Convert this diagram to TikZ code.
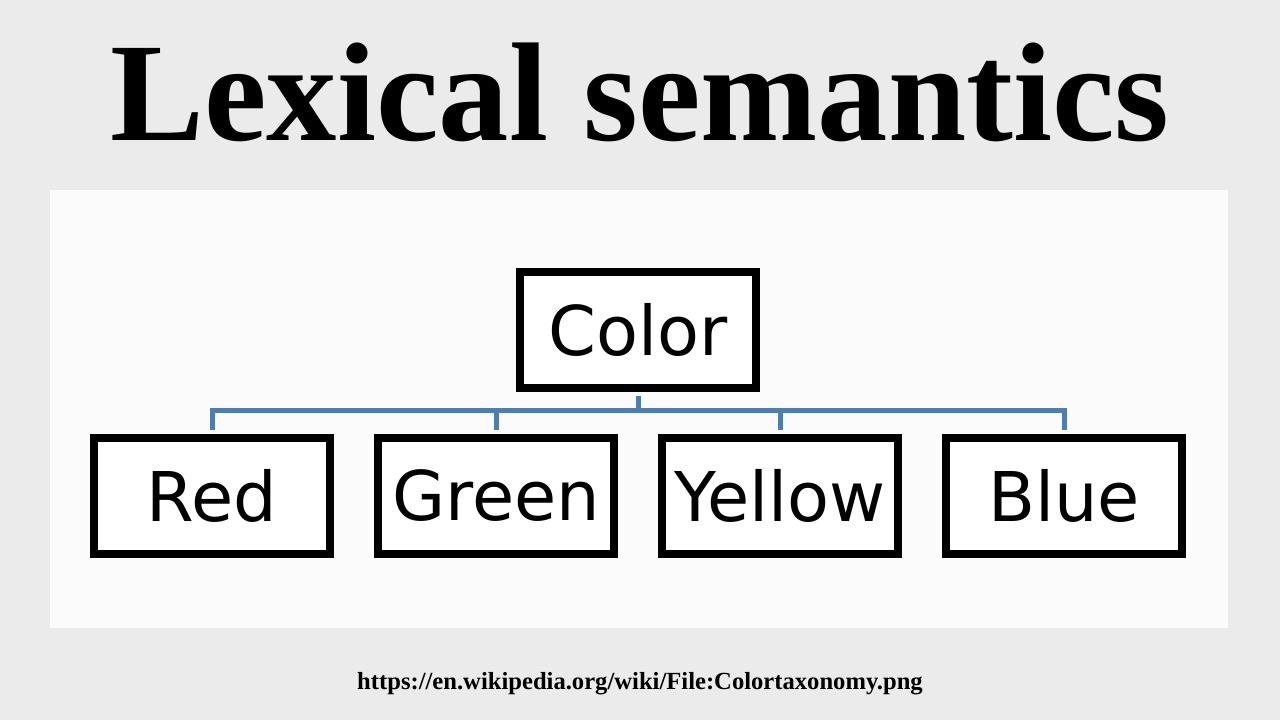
\documentclass[tikz,border=0pt]{standalone}
\usepackage{fontspec}
\setmainfont{Liberation Serif}
\newfontfamily\boxfont{DejaVu Sans}
\definecolor{pagebg}{RGB}{235,235,235}
\definecolor{panelbg}{RGB}{251,251,251}
\definecolor{linkblue}{RGB}{79,125,178}

\begin{document}
\begin{tikzpicture}[x=0.01cm,y=-0.01cm,
    box/.style={draw=black,line width=0.08cm,fill=white,minimum width=2.35cm,minimum height=1.16cm,inner sep=0pt,font=\boxfont\fontsize{19.5}{23}\selectfont},
    link/.style={draw=linkblue,line width=0.05cm}]
        \useasboundingbox[fill=pagebg] (0,0) rectangle (1280,720);
        \fill[panelbg] (50,190) rectangle (1228,628);
        % title and source
        \node[font=\bfseries\fontsize{40}{48}\selectfont] (title) at (640,92) {Lexical semantics};
        \node[font=\bfseries\fontsize{7}{9}\selectfont] (source) at (640,684) {https://en.wikipedia.org/wiki/File:Colortaxonomy.png};
        % taxonomy
        \draw (638,330)  node[box] (color) {Color};
        \draw (212,496)  node[box] (red) {Red};
        \draw (496,496)  node[box] (green) {Green};
        \draw (780,496)  node[box] (yellow) {Yellow};
        \draw (1064,496) node[box] (blue) {Blue};
        \coordinate (hub) at (638,410);
        \draw[link,shorten <=0.04cm] (color.south) -- (hub);
        \foreach \leaf in {red,green,yellow,blue}
            \draw[link,shorten >=0.04cm] (hub) -| (\leaf.north);
    \end{tikzpicture}
\end{document}
